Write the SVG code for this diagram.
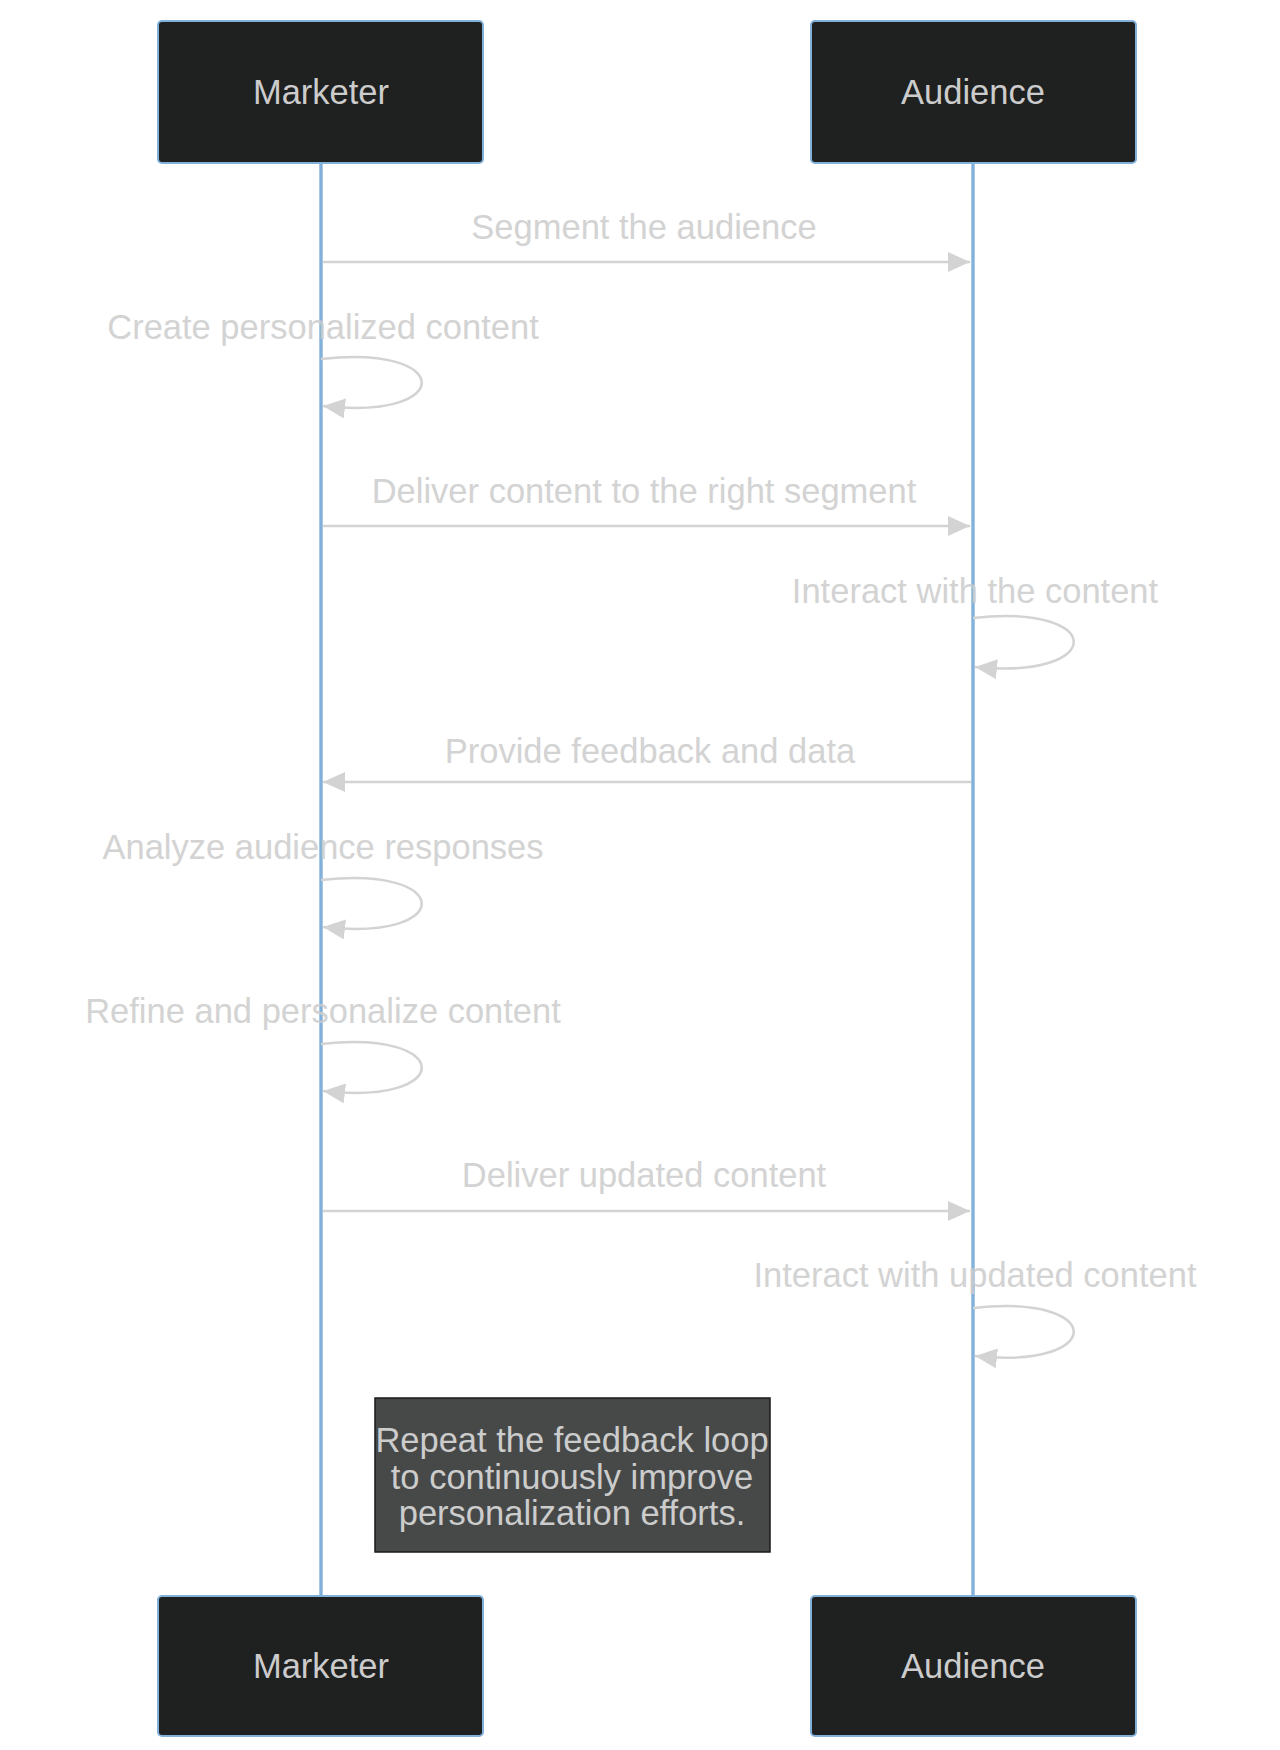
<svg xmlns="http://www.w3.org/2000/svg" width="1280" height="1750" viewBox="0 0 1280 1750">
<style>
.actor{fill:#1f2020;stroke:#81b1db;stroke-width:2}
.atext{font-family:"Liberation Sans",Arial,sans-serif;font-size:34.5px;fill:#ccc;text-anchor:middle;dominant-baseline:central}
.life{stroke:#81b1db;stroke-width:3.4}
.msg{stroke:#d3d3d3;stroke-width:2.6;fill:none}
.mtext{font-family:"Liberation Sans",Arial,sans-serif;font-size:34.5px;fill:#ccc;text-anchor:middle;dominant-baseline:central;opacity:0.85}
.note{fill:#474949;stroke:#1a1a1a;stroke-width:1.5}
.ntext{font-family:"Liberation Sans",Arial,sans-serif;font-size:34.5px;fill:#ccc;text-anchor:middle;dominant-baseline:central}
</style>
<defs>
<marker id="ah" markerUnits="userSpaceOnUse" markerWidth="24" markerHeight="24" refX="22" refY="10" orient="auto"><path d="M0,0 L22,10 L0,20 z" fill="#d3d3d3"/></marker>
</defs>
<g id="lifelines">
<line class="life" x1="321" y1="163" x2="321" y2="1596"/>
<line class="life" x1="973" y1="163" x2="973" y2="1596"/>
</g>
<g id="marketer-top"><rect class="actor" x="158" y="21" width="325" height="142" rx="4"/><text class="atext" x="321" y="92">Marketer</text></g>
<g id="audience-top"><rect class="actor" x="811" y="21" width="325" height="142" rx="4"/><text class="atext" x="973" y="92">Audience</text></g>
<g id="marketer-bottom"><rect class="actor" x="158" y="1596" width="325" height="140" rx="4"/><text class="atext" x="321" y="1666">Marketer</text></g>
<g id="audience-bottom"><rect class="actor" x="811" y="1596" width="325" height="140" rx="4"/><text class="atext" x="973" y="1666">Audience</text></g>
<g id="note"><rect class="note" x="375" y="1398" width="395" height="154"/>
<text class="ntext" x="572" y="1440">Repeat the feedback loop</text>
<text class="ntext" x="572" y="1477">to continuously improve</text>
<text class="ntext" x="572" y="1513">personalization efforts.</text></g>
<g id="connectors">
<line class="msg" x1="323" y1="262" x2="970" y2="262" marker-end="url(#ah)"/>
<path class="msg" d="M321,359 C455,344 455,421 323,406" marker-end="url(#ah)"/>
<line class="msg" x1="323" y1="526" x2="970" y2="526" marker-end="url(#ah)"/>
<path class="msg" d="M973,618 C1107,603 1107,680 975,667" marker-end="url(#ah)"/>
<line class="msg" x1="971" y1="782" x2="323" y2="782" marker-end="url(#ah)"/>
<path class="msg" d="M321,880 C455,865 455,942 323,927" marker-end="url(#ah)"/>
<path class="msg" d="M321,1044 C455,1029 455,1106 323,1091" marker-end="url(#ah)"/>
<line class="msg" x1="323" y1="1211" x2="970" y2="1211" marker-end="url(#ah)"/>
<path class="msg" d="M973,1308 C1107,1293 1107,1370 975,1356" marker-end="url(#ah)"/>
</g>
<g id="labels">
<text class="mtext" x="644" y="227">Segment the audience</text>
<text class="mtext" x="323" y="327">Create personalized content</text>
<text class="mtext" x="644" y="491">Deliver content to the right segment</text>
<text class="mtext" x="975" y="591">Interact with the content</text>
<text class="mtext" x="650" y="751">Provide feedback and data</text>
<text class="mtext" x="323" y="847">Analyze audience responses</text>
<text class="mtext" x="323" y="1011">Refine and personalize content</text>
<text class="mtext" x="644" y="1175">Deliver updated content</text>
<text class="mtext" x="975" y="1275">Interact with updated content</text>
</g>
</svg>
